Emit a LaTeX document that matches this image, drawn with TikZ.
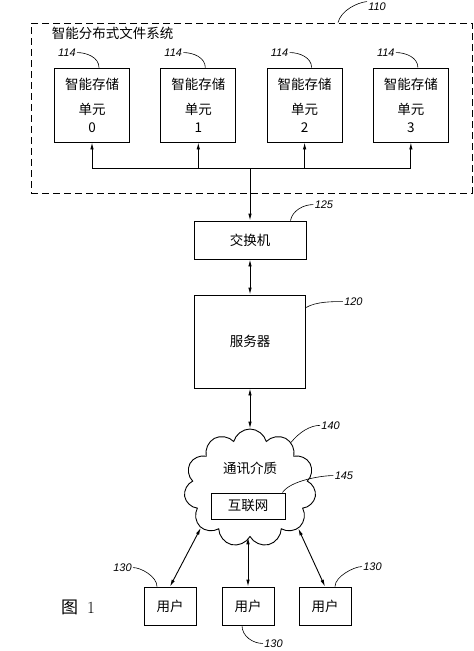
\documentclass[tikz,border=0pt]{standalone}
\usepackage{fontspec}
\newfontfamily\cjk{Noto Sans CJK SC}
\newfontfamily\refnum{Liberation Sans}
\usetikzlibrary{arrows.meta}
\usetikzlibrary{shapes.symbols}

\begin{document}
\begin{tikzpicture}[x=1pt,y=-1pt,line width=0.9pt,
    box/.style={draw,align=center,inner sep=0pt,font=\cjk\fontsize{13.5}{18}\selectfont},
    ref/.style={font=\refnum\itshape\fontsize{11}{12}\selectfont,inner sep=1pt},
    lead/.style={line width=0.6pt},
    >={Latex[length=7pt,width=3.5pt]}]
  \useasboundingbox (0,0) rectangle (474,651);
  % file system
  \node[draw,dash pattern=on 7pt off 4pt,minimum width=441pt,minimum height=170pt] (fsys) at (251.5,108) {};
  \node[anchor=west,font=\cjk\fontsize{13.5}{15}\selectfont] (fstitle) at (48,33) {智能分布式文件系统};
  \draw[lead] (fsys.north) ++(86.5,0) .. controls +(3,-12) and +(-10,1) .. ++(29,-21) node[ref,anchor=north west] {110};
  \coordinate (bus) at (250,168);
  \foreach \i in {0,...,3} {
    \node[box,minimum width=75pt,minimum height=74pt] (s\i) at (92+106.3*\i,105) {智能存储\\[7pt]单元\\\i};
    \draw[->] (s\i |- bus) -- (s\i.south);
    \draw[lead] (s\i.north) ++(7,0) .. controls +(0,-10) and +(10,0) .. ++(-22,-15) node[ref,anchor=east] {114};
  }
  \draw (s0 |- bus) -- (s3 |- bus);
  % switch and server
  \node[box,minimum width=112pt,minimum height=38pt] (sw) at (250,240) {交换机};
  \draw[->] (bus) -- (sw.north);
  \draw[lead] (sw.north east) ++(-16,0) .. controls +(2,-10) and +(-10,0) .. ++(23,-16) node[ref,anchor=west] {125};
  \node[box,minimum width=111pt,minimum height=93pt] (srv) at (250,341.5) {服务器};
  \draw[<->] (sw) -- (srv);
  \draw[lead] (srv.north east) ++(0,13) .. controls +(10,-6) and +(-10,0) .. ++(37,-6) node[ref,anchor=west] {120};
  % network
  \node[cloud,draw,cloud puffs=11,minimum width=132pt,minimum height=118pt] (cloud) at (250,488) {};
  \draw[<->] (srv) -- (cloud);
  \node[font=\cjk\fontsize{13.5}{15}\selectfont] (medium) at (250,468) {通讯介质};
  \draw[lead] (cloud.48) .. controls +(8,-10) and +(-10,0) .. ++(29,-17) node[ref,anchor=west] {140};
  \node[box,minimum width=74pt,minimum height=26pt] (net) at (248,506) {互联网};
  \draw[lead] (net.north east) ++(-3,0) .. controls +(8,-12) and +(-12,0) .. ++(51,-17) node[ref,anchor=west] {145};
  % users
  \foreach \i/\x in {0/170,1/248,2/325}
    \node[box,minimum width=52pt,minimum height=38pt] (u\i) at (\x,606) {用户};
  \draw[<->] (cloud.219) -- (u0.north);
  \draw[<->] (u1.north |- cloud.south) -- (u1.north);
  \draw[<->] (cloud.320) -- (u2.north);
  \draw[lead] (u0.north) ++(-13,0) .. controls +(0,-10) and +(8,0) .. ++(-24,-19) node[ref,anchor=east] {130};
  \draw[lead] (u2.north) ++(10,0) .. controls +(0,-10) and +(-8,0) .. ++(27,-20) node[ref,anchor=west] {130};
  \draw[lead] (u1.south) ++(-6,0) .. controls +(0,11) and +(-10,0) .. ++(21,18) node[ref,anchor=west] {130};
  \node[font=\fontsize{17}{20}\selectfont] (fig) at (78,607) {{\cjk 图}\hspace{9pt}1};
\end{tikzpicture}
\end{document}
